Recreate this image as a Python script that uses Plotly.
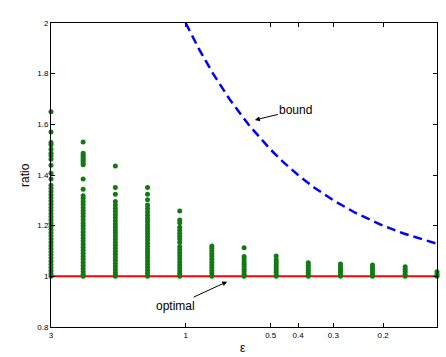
import math
import plotly.graph_objects as go

# --- data ---
eps_cols = [3.0, 2.308, 1.775, 1.365, 1.050, 0.808, 0.621, 0.478, 0.368, 0.283, 0.218, 0.167, 0.1288]

ratio_cols = [
    [1.650, 1.570, 1.528, 1.519, 1.502, 1.486, 1.476, 1.462, 1.438, 1.407, 1.384, 1.360, 1.348,
     1.335, 1.322, 1.310, 1.297, 1.285, 1.272, 1.260, 1.247, 1.235, 1.222, 1.210, 1.197, 1.185,
     1.172, 1.160, 1.147, 1.135, 1.122, 1.110, 1.097, 1.085, 1.072, 1.060, 1.047, 1.035, 1.022,
     1.010, 1.000],
    [1.530, 1.486, 1.478, 1.470, 1.462, 1.455, 1.447, 1.440, 1.384, 1.344, 1.318, 1.308, 1.295,
     1.284, 1.271, 1.259, 1.248, 1.236, 1.223, 1.211, 1.200, 1.188, 1.175, 1.163, 1.151, 1.139,
     1.127, 1.115, 1.103, 1.091, 1.079, 1.067, 1.055, 1.043, 1.031, 1.019, 1.008, 1.000],
    [1.436, 1.351, 1.324, 1.295, 1.282, 1.268, 1.256, 1.244, 1.232, 1.219, 1.207, 1.195, 1.183,
     1.171, 1.159, 1.147, 1.135, 1.123, 1.111, 1.099, 1.087, 1.075, 1.063, 1.051, 1.039, 1.027,
     1.015, 1.005, 1.000],
    [1.351, 1.324, 1.302, 1.282, 1.268, 1.254, 1.241, 1.228, 1.216, 1.204, 1.192, 1.180, 1.168,
     1.156, 1.144, 1.132, 1.120, 1.108, 1.096, 1.084, 1.072, 1.060, 1.048, 1.036, 1.024, 1.012,
     1.000],
    [1.258, 1.222, 1.212, 1.194, 1.182, 1.170, 1.158, 1.147, 1.134, 1.117, 1.105, 1.093, 1.081,
     1.069, 1.057, 1.045, 1.033, 1.021, 1.010, 1.000],
    [1.120, 1.111, 1.100, 1.089, 1.078, 1.067, 1.056, 1.045, 1.034, 1.023, 1.012, 1.000],
    [1.113, 1.078, 1.068, 1.058, 1.048, 1.038, 1.028, 1.018, 1.008, 1.000],
    [1.080, 1.065, 1.055, 1.045, 1.035, 1.025, 1.015, 1.005, 1.000],
    [1.054, 1.044, 1.034, 1.024, 1.014, 1.005, 1.000],
    [1.049, 1.038, 1.028, 1.018, 1.008, 1.000],
    [1.045, 1.035, 1.025, 1.015, 1.005, 1.000],
    [1.038, 1.028, 1.018, 1.008, 1.000],
    [1.018, 1.008, 1.000],
]

eps_bound = [1.0, 0.9, 0.8, 0.7, 0.6, 0.5, 0.45, 0.4, 0.35, 0.3, 0.25, 0.2, 0.17, 0.15, 0.1288]
bound = [2.0, 1.9, 1.8, 1.7, 1.6, 1.5, 1.45, 1.4, 1.35, 1.3, 1.25, 1.2, 1.17, 1.15, 1.1288]

eps_opt = [3.0, 0.1288]
optimal = [1.0, 1.0]

x_tickvals = [3, 1, 0.5, 0.4, 0.3, 0.2]
x_ticktext = ["3", "1", "0.5", "0.4", "0.3", "0.2"]
y_tickvals = [0.8, 1.0, 1.2, 1.4, 1.6, 1.8, 2.0]
y_ticktext = ["0.8", "1", "1.2", "1.4", "1.6", "1.8", "2"]

# --- build ---
xs, ys = [], []
for e, col in zip(eps_cols, ratio_cols):
    xs += [e] * len(col)
    ys += col

fig = go.Figure()
fig.add_trace(go.Scatter(x=eps_opt, y=optimal, mode="lines",
                         line=dict(color="#ff0000", width=2), cliponaxis=False))
fig.add_trace(go.Scatter(x=xs, y=ys, mode="markers",
                         marker=dict(color="#137a13", size=5, line=dict(width=0)),
                         cliponaxis=False))
fig.add_trace(go.Scatter(x=eps_bound, y=bound, mode="lines",
                         line=dict(color="#0000ff", width=2.5, dash="9px,5px")))

font = "Liberation Sans, Arial, Helvetica, sans-serif"
axis_common = dict(showline=True, linecolor="black", linewidth=1, mirror="ticks",
                   ticks="inside", ticklen=4, tickcolor="black", showgrid=False,
                   zeroline=False, tickfont=dict(size=8, color="black", family=font))

x_lo = math.log10(max(eps_cols)) + 1e-6
x_hi = math.log10(min(eps_cols)) - 1e-6
fig.update_xaxes(type="log", range=[x_lo, x_hi], tickvals=x_tickvals,
                 ticktext=x_ticktext, **axis_common)
fig.update_yaxes(range=[0.8, 2.0], tickvals=y_tickvals, ticktext=y_ticktext, **axis_common)

fig.add_annotation(x=-0.245, y=1.617, xref="x", yref="y", text="bound",
                   showarrow=True, ax=41, ay=-10, arrowhead=2, arrowsize=1,
                   arrowwidth=1, arrowcolor="black",
                   font=dict(size=12, color="black", family=font))
fig.add_annotation(x=-0.147, y=0.979, xref="x", yref="y", text="optimal",
                   showarrow=True, ax=-52, ay=24, arrowhead=2, arrowsize=1,
                   arrowwidth=1, arrowcolor="black",
                   font=dict(size=12, color="black", family=font))
fig.add_annotation(x=-0.0674, y=0.5, xref="paper", yref="paper", text="ratio",
                   textangle=-90, showarrow=False, xanchor="center", yanchor="middle",
                   font=dict(size=12, color="black", family=font))
fig.add_annotation(x=0.497, y=-0.069, xref="paper", yref="paper", text="ε",
                   showarrow=False, xanchor="center", yanchor="middle",
                   font=dict(size=12, color="black", family=font))

fig.update_layout(width=446, height=357, autosize=False,
                  margin=dict(l=51, r=9, t=23, b=30),
                  paper_bgcolor="white", plot_bgcolor="white",
                  showlegend=False, font=dict(family=font))

fig.write_html("out.html", config={"displayModeBar": False},
               post_script="document.body.style.margin='0px';document.body.style.overflow='hidden';")
